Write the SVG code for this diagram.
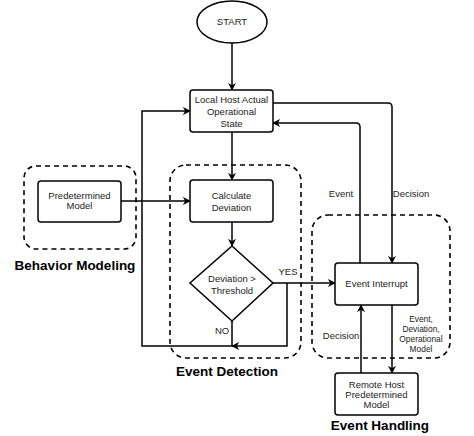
<svg xmlns="http://www.w3.org/2000/svg" width="474" height="436" viewBox="0 0 474 436">
<style>
.box{fill:#fff;stroke:#000;stroke-width:1.5}
.grp{fill:none;stroke:#000;stroke-width:1.6;stroke-dasharray:5,4}
.ln{fill:none;stroke:#000;stroke-width:1.5}
.t{font-family:"Liberation Sans",Arial,sans-serif;font-size:9.5px;fill:#222;text-anchor:middle}
.s{font-size:8.4px}
.b{font-family:"Liberation Sans",Arial,sans-serif;font-size:13.5px;font-weight:bold;fill:#000;text-anchor:middle}
</style>
<defs>
<marker id="ar" viewBox="0 0 10 10" refX="9" refY="5" markerWidth="8" markerHeight="8" markerUnits="userSpaceOnUse" orient="auto">
<path d="M0,0 L10,5 L0,10 L3,5 z" fill="#000"/>
</marker>
</defs>
<rect width="474" height="436" fill="#fff"/>
<g id="groups">
<rect id="behavior-modeling" class="grp" x="24" y="166" width="112" height="83" rx="12"/>
<rect id="event-detection" class="grp" x="170" y="165" width="131" height="193" rx="16"/>
<rect id="event-handling" class="grp" x="312" y="215" width="138" height="143" rx="16"/>
<text class="b" x="75" y="270">Behavior Modeling</text>
<text class="b" x="227" y="376">Event Detection</text>
<text class="b" x="380" y="430">Event Handling</text>
</g>
<g id="connectors">
<path class="ln" d="M232,43 L232,90" marker-end="url(#ar)"/>
<path class="ln" d="M232,132 L232,180" marker-end="url(#ar)"/>
<path class="ln" d="M232,222 L232,246" marker-end="url(#ar)"/>
<path class="ln" d="M121,201 L190,201" marker-end="url(#ar)"/>
<path class="ln" d="M273,283 L335,283" marker-end="url(#ar)"/>
<path class="ln" d="M287,283 L287,346 L232,346" marker-end="url(#ar)"/>
<path class="ln" d="M232,321 L232,346 L142,346 L142,111 L190,111" marker-end="url(#ar)"/>
<path class="ln" d="M273,103 L388,103 Q392,103 392,107 L392,263" marker-end="url(#ar)"/>
<path class="ln" d="M360,263 L360,127 Q360,123 356,123 L273,123" marker-end="url(#ar)"/>
<path class="ln" d="M361,373 L361,305" marker-end="url(#ar)"/>
<path class="ln" d="M392,305 L392,373" marker-end="url(#ar)"/>
<text class="t" x="341" y="197">Event</text>
<text class="t" x="411" y="197">Decision</text>
<text class="t" x="288" y="275">YES</text>
<text class="t" x="222" y="334">NO</text>
<text class="t" x="341" y="339">Decision</text>
<text class="t s" x="421" y="322">Event,</text>
<text class="t s" x="421" y="332">Deviation,</text>
<text class="t s" x="421" y="342">Operational</text>
<text class="t s" x="421" y="352">Model</text>
</g>
<g id="start">
<ellipse class="box" cx="232" cy="22" rx="35" ry="21"/>
<text class="t" x="232" y="25">START</text>
</g>
<g id="local-host">
<rect class="box" x="190" y="90" width="83" height="42" rx="3"/>
<text class="t" x="231.5" y="103">Local Host Actual</text>
<text class="t" x="231.5" y="115">Operational</text>
<text class="t" x="231.5" y="127">State</text>
</g>
<g id="predetermined-model">
<rect class="box" x="38" y="181" width="83" height="41" rx="3"/>
<text class="t" x="79.5" y="199">Predetermined</text>
<text class="t" x="79.5" y="209">Model</text>
</g>
<g id="calculate-deviation">
<rect class="box" x="190" y="180" width="83" height="42" rx="3"/>
<text class="t" x="231.5" y="199">Calculate</text>
<text class="t" x="231.5" y="211">Deviation</text>
</g>
<g id="threshold">
<path class="box" d="M232,246 L273,283 L232,321 L190,283 z"/>
<text class="t" x="232" y="282">Deviation &gt;</text>
<text class="t" x="232" y="294">Threshold</text>
</g>
<g id="event-interrupt">
<rect class="box" x="335" y="263" width="83" height="42" rx="3"/>
<text class="t" x="376.5" y="287">Event Interrupt</text>
</g>
<g id="remote-host">
<rect class="box" x="335" y="373" width="83" height="42" rx="3"/>
<text class="t" x="376.5" y="388">Remote Host</text>
<text class="t" x="376.5" y="398">Predetermined</text>
<text class="t" x="376.5" y="408">Model</text>
</g>
</svg>
